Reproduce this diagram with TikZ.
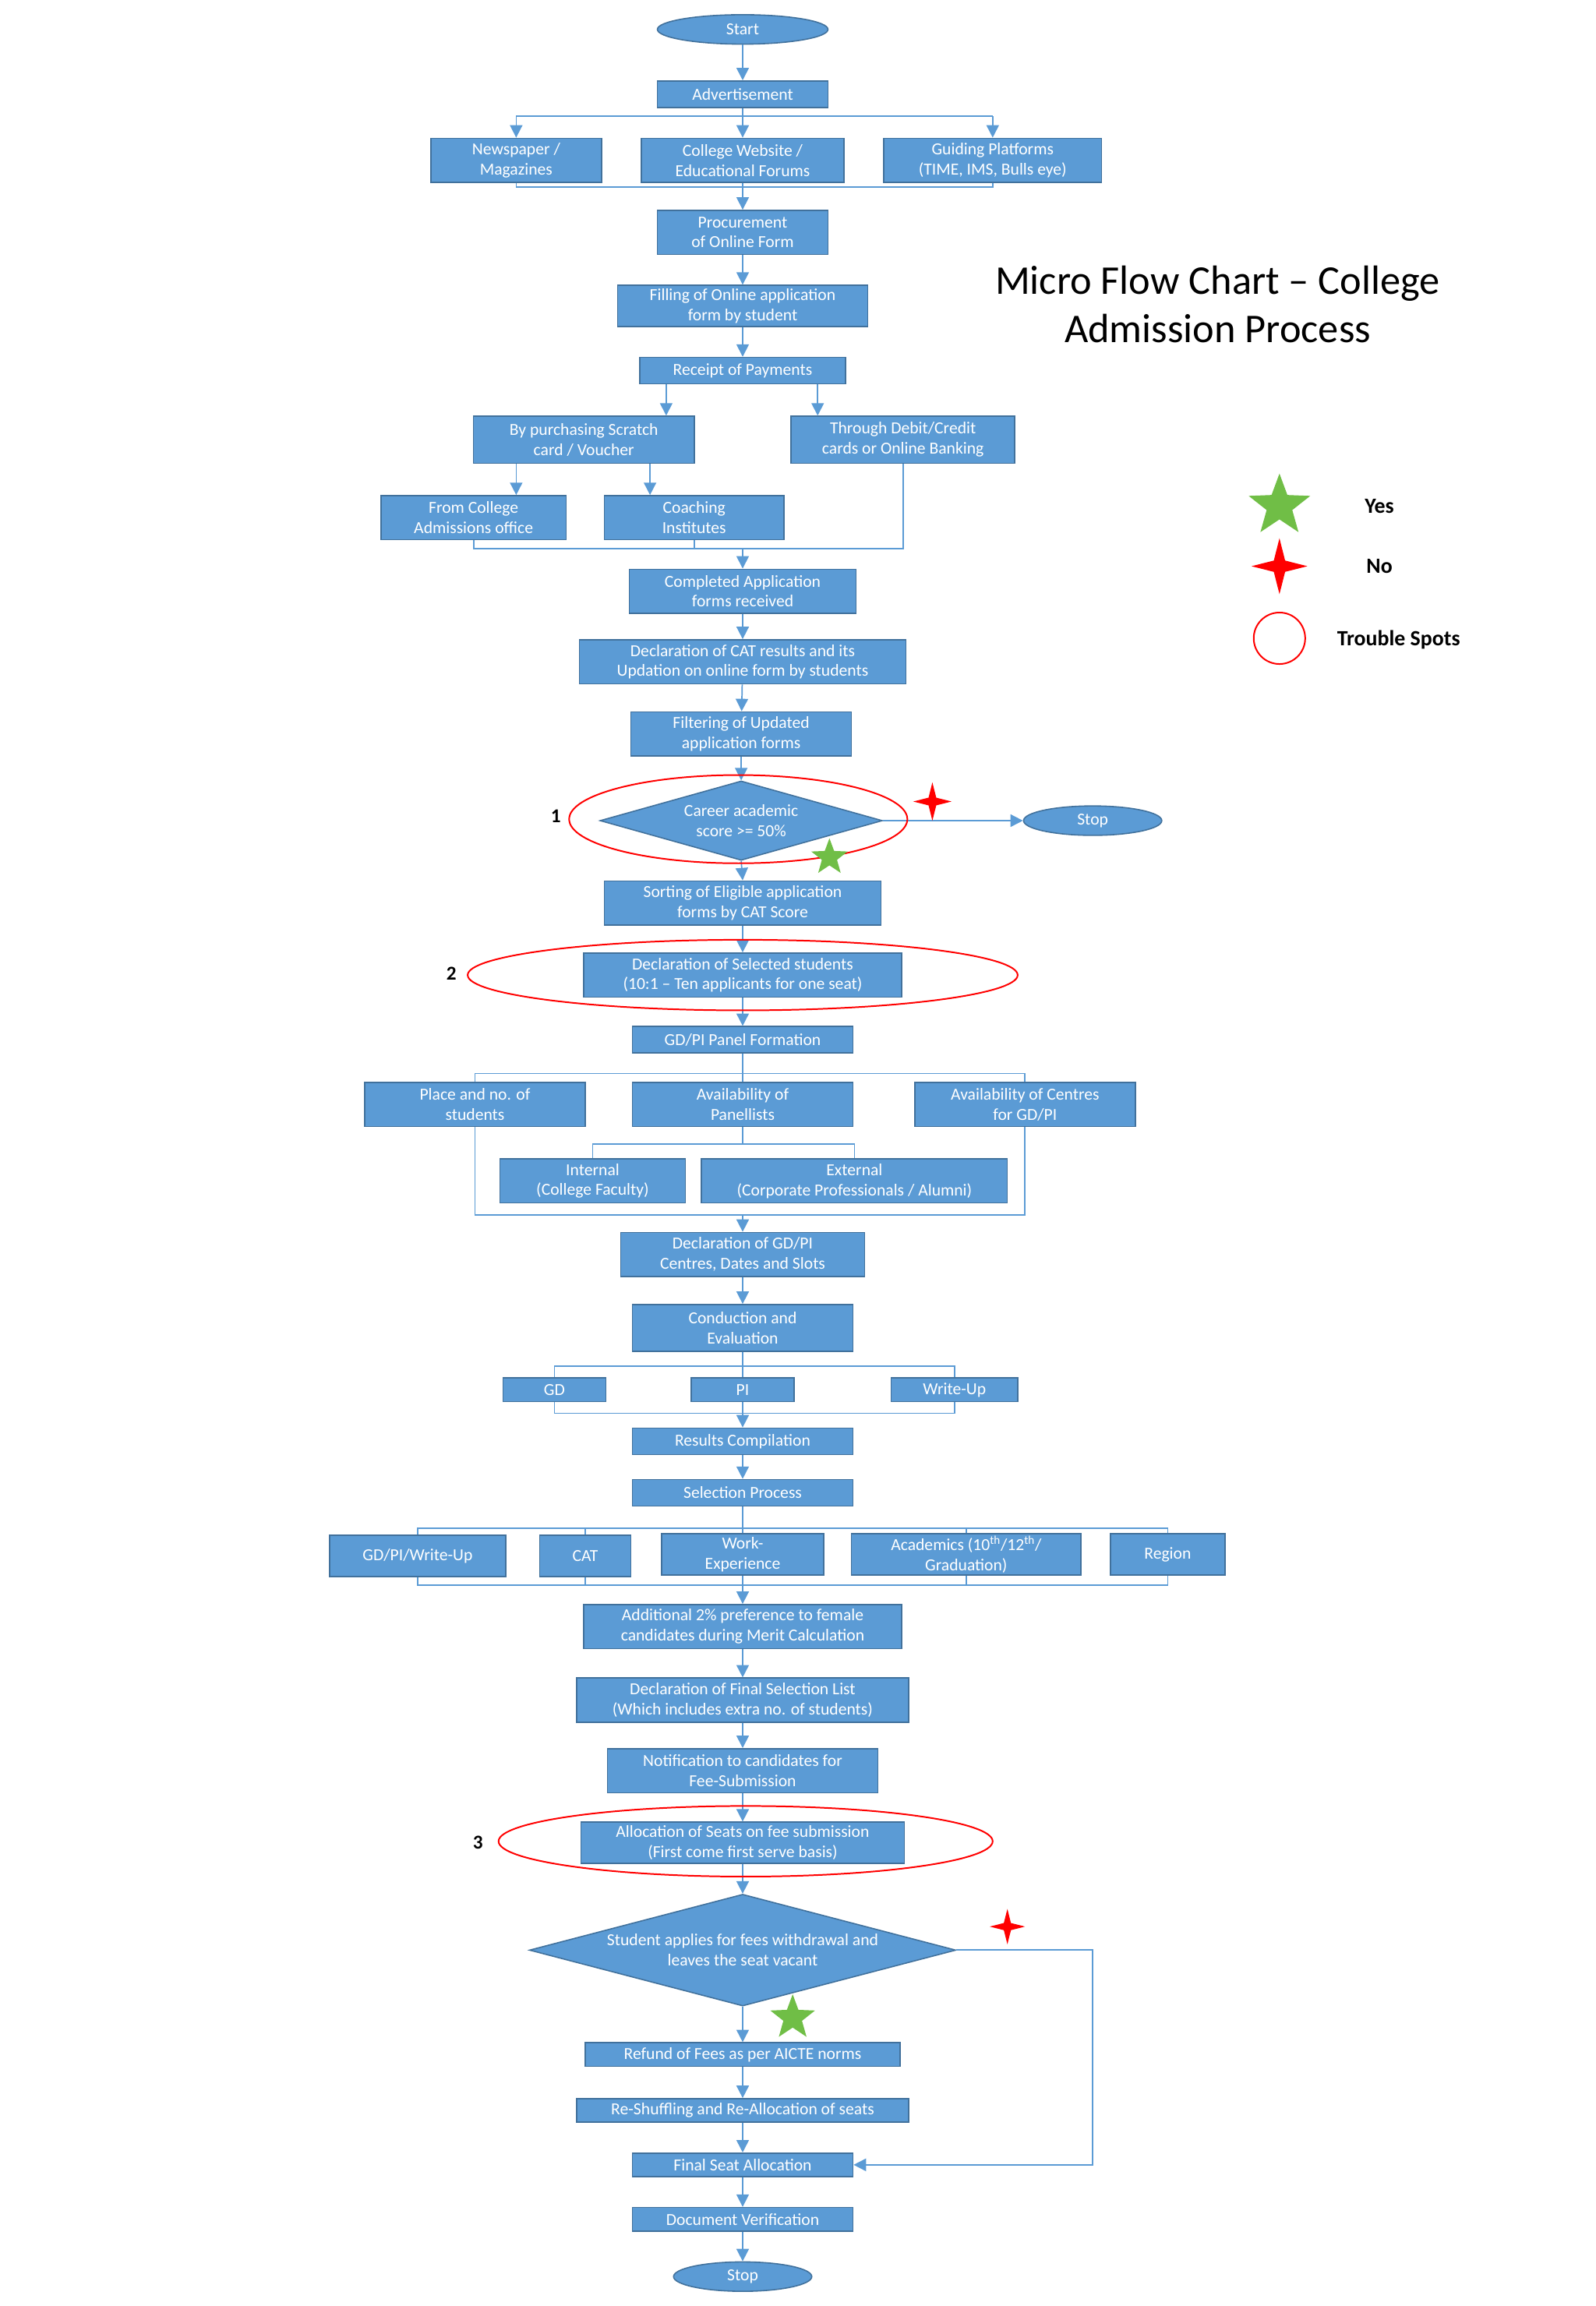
\documentclass[tikz,border=0pt]{standalone}
\usepackage{fontspec}
\setmainfont{Carlito}
\usetikzlibrary{shapes.geometric,arrows.meta}
\definecolor{bfill}{RGB}{91,155,213}
\definecolor{bdraw}{RGB}{65,113,156}
\definecolor{lcol}{RGB}{91,155,213}
\definecolor{sgreen}{RGB}{112,190,70}
\tikzset{
 box/.style={draw=bdraw,fill=bfill,line width=1.2pt,text=white,align=center,inner sep=0pt,font=\fontsize{16.3}{19.5}\selectfont},
 oval/.style={box,ellipse},
 dia/.style={box,diamond,aspect=3.5},
 ln/.style={draw=lcol,line width=1.3pt},
 arr/.style={ln,-{Triangle[length=12pt,width=12pt]}},
 ring/.style={draw=red,line width=1.5pt,ellipse,inner sep=0pt},
 gstar/.style={star,star points=5,star point ratio=2.4,fill=sgreen,draw=none,inner sep=0pt},
 rstar/.style={star,star points=4,star point ratio=3.5,fill=red,draw=none,inner sep=0pt},
 numlab/.style={font=\fontsize{19}{20}\selectfont\bfseries},
}
\newcommand\mybox[6]{\node[box,minimum width=#4*0.05cm,minimum height=#5*0.05cm] (#1) at (#2,#3) {#6};}
\begin{document}
\begin{tikzpicture}[x=0.05cm,y=-0.05cm]
\useasboundingbox (0,0) rectangle (1085,1568);
\node[oval,minimum width=5.8cm,minimum height=1cm] (start) at (505,20) {Start};
\mybox{adv}{505}{64}{116}{18}{Advertisement}
\mybox{news}{351}{109}{116}{30}{Newspaper /\\Magazines}
\mybox{coll}{505}{109}{138}{30}{College Website /\\Educational Forums}
\mybox{guide}{675}{109}{148}{30}{Guiding Platforms\\(TIME, IMS, Bulls eye)}
\mybox{proc}{505}{158}{116}{30}{Procurement\\of Online Form}
\mybox{fill}{505}{208}{170}{28}{Filling of Online application\\form by student}
\mybox{rec}{505}{252}{140}{18}{Receipt of Payments}
\mybox{scr}{397}{299}{150}{32}{By purchasing Scratch\\card / Voucher}
\mybox{deb}{614}{299}{152}{32}{Through Debit/Credit\\cards or Online Banking}
\mybox{fcol}{322}{352}{126}{30}{From College\\Admissions office}
\mybox{coach}{472}{352}{122}{30}{Coaching\\Institutes}
\mybox{comp}{505}{402}{154}{30}{Completed Application\\forms received}
\mybox{dcat}{505}{450}{222}{30}{Declaration of CAT results and its\\Updation on online form by students}
\mybox{filt}{504}{499}{150}{30}{Filtering of Updated\\application forms}
\node[dia,minimum width=9.6cm,minimum height=2.7cm] (car) at (504,558) {Career academic\\score >= 50\%};
\node[oval,minimum width=4.7cm,minimum height=1cm] (stop1) at (743,558) {Stop};
\mybox{sort}{505}{614}{188}{30}{Sorting of Eligible application\\forms by CAT Score}
\mybox{dsel}{505}{663}{216}{30}{Declaration of Selected students\\(10:1 -- Ten applicants for one seat)}
\mybox{pan}{505}{707}{150}{18}{GD/PI Panel Formation}
\mybox{place}{323}{751}{150}{30}{Place and no. of\\students}
\mybox{avp}{505}{751}{150}{30}{Availability of\\Panellists}
\mybox{avc}{697}{751}{150}{30}{Availability of Centres\\for GD/PI}
\mybox{int}{403}{803}{126}{30}{Internal\\(College Faculty)}
\mybox{ext}{581}{803}{208}{30}{External\\(Corporate Professionals / Alumni)}
\mybox{dgd}{505}{853}{166}{30}{Declaration of GD/PI\\Centres, Dates and Slots}
\mybox{cond}{505}{903}{150}{32}{Conduction and\\Evaluation}
\mybox{gd}{377}{945}{70}{16}{GD}
\mybox{pi}{505}{945}{70}{16}{PI}
\mybox{wu}{649}{945}{86}{16}{Write-Up}
\mybox{res}{505}{980}{150}{18}{Results Compilation}
\mybox{sel}{505}{1015}{150}{18}{Selection Process}
\mybox{s1}{284}{1058}{120}{28}{GD/PI/Write-Up}
\mybox{s2}{398}{1058}{62}{28}{CAT}
\mybox{s3}{505}{1057}{110}{28}{Work-\\Experience}
\mybox{s4}{657}{1057}{156}{28}{Academics (10\textsuperscript{th}/12\textsuperscript{th}/\\Graduation)}
\mybox{s5}{794}{1057}{78}{28}{Region}
\mybox{addl}{505}{1106}{216}{30}{Additional 2\% preference to female\\candidates during Merit Calculation}
\mybox{fsl}{505}{1156}{226}{30}{Declaration of Final Selection List\\(Which includes extra no. of students)}
\mybox{notif}{505}{1204}{184}{30}{Notification to candidates for\\Fee-Submission}
\mybox{alloc}{505}{1253}{220}{28}{Allocation of Seats on fee submission\\(First come first serve basis)}
\node[dia,minimum width=14.5cm,minimum height=3.8cm,aspect=3.8] (wd) at (505,1326) {Student applies for fees withdrawal and\\leaves the seat vacant};
\mybox{ref}{505}{1397}{214}{16}{Refund of Fees as per AICTE norms}
\mybox{resh}{505}{1435}{226}{16}{Re-Shuffling and Re-Allocation of seats}
\mybox{fin}{505}{1472}{150}{16}{Final Seat Allocation}
\mybox{doc}{505}{1509}{150}{16}{Document Verification}
\node[oval,minimum width=4.7cm,minimum height=1cm] (stop2) at (505,1548) {Stop};
% connectors
\draw[arr] (start) -- (adv);
\draw[ln] (adv.south) -- (505,79);
\draw[ln] (351,79) -- (675,79);
\draw[arr] (351,79) -- (news.north);
\draw[arr] (505,79) -- (coll.north);
\draw[arr] (675,79) -- (guide.north);
\draw[ln] (news.south) -- (351,127) -- (675,127) -- (guide.south);
\draw[arr] (coll.south) -- (proc.north);
\draw[arr] (proc) -- (fill);
\draw[arr] (fill) -- (rec);
\draw[arr] (rec.south -| 453,0) -- (scr.north -| 453,0);
\draw[arr] (rec.south -| 556,0) -- (deb.north -| 556,0);
\draw[arr] (scr.south -| 351,0) -- (fcol.north -| 351,0);
\draw[arr] (scr.south -| 442,0) -- (coach.north -| 442,0);
\draw[ln] (fcol.south) -- (322,373) -- (614,373) -- (deb.south);
\draw[ln] (coach.south) -- (472,373);
\draw[arr] (505,373) -- (comp.north);
\draw[arr] (comp) -- (dcat);
\draw[arr] (dcat) -- (filt);
\draw[arr] (filt.south) -- (car.north);
\draw[arr] (car.east) -- (stop1.west);
\draw[arr] (car.south) -- (sort.north);
\draw[arr] (sort) -- (dsel);
\draw[arr] (dsel) -- (pan);
\draw[ln] (pan.south) -- (505,730);
\draw[ln] (place.north) -- (323,730) -- (697,730) -- (avc.north);
\draw[ln] (505,730) -- (avp.north);
\draw[ln] (avp.south) -- (505,778);
\draw[ln] (int.north) -- (403,778) -- (581,778) -- (ext.north);
\draw[ln] (place.south) -- (323,826) -- (697,826) -- (avc.south);
\draw[arr] (505,826) -- (dgd.north);
\draw[arr] (dgd) -- (cond);
\draw[ln] (cond.south) -- (505,929);
\draw[ln] (gd.north) -- (377,929) -- (649,929) -- (wu.north);
\draw[ln] (505,929) -- (pi.north);
\draw[ln] (gd.south) -- (377,961) -- (649,961) -- (wu.south);
\draw[ln] (pi.south) -- (505,961);
\draw[arr] (505,961) -- (res.north);
\draw[arr] (res) -- (sel);
\draw[ln] (sel.south) -- (505,1039);
\draw[ln] (s1.north) -- (284,1039) -- (794,1039) -- (s5.north);
\draw[ln] (s2.north) -- (398,1039);
\draw[ln] (s3.north) -- (505,1039);
\draw[ln] (s4.north) -- (657,1039);
\draw[ln] (s1.south) -- (284,1078) -- (794,1078) -- (s5.south);
\draw[ln] (s2.south) -- (398,1078);
\draw[ln] (s4.south) -- (657,1078);
\draw[arr] (s3.south) -- (addl.north);
\draw[arr] (addl) -- (fsl);
\draw[arr] (fsl) -- (notif);
\draw[arr] (notif) -- (alloc);
\draw[arr] (alloc.south) -- (wd.north);
\draw[arr] (wd.south) -- (ref.north);
\draw[arr] (ref) -- (resh);
\draw[arr] (resh) -- (fin);
\draw[arr] (fin) -- (doc);
\draw[arr] (doc) -- (stop2);
\draw[arr] (wd.east) -- (743,1326) -- (743,1472) -- (fin.east);
% trouble spots
\node[ring,minimum width=11.5cm,minimum height=3cm] (r1) at (502,557) {};
\node[ring,minimum width=18.7cm,minimum height=2.4cm] (r2) at (505,663) {};
\node[ring,minimum width=16.8cm,minimum height=2.4cm] (r3) at (507,1252) {};
\node[numlab] (n1) at (378,555) {1};
\node[numlab] (n2) at (307,662) {2};
\node[numlab] (n3) at (325,1253) {3};
\node[gstar,minimum size=1.3cm] (g1) at (564,583) {};
\node[gstar,minimum size=1.6cm] (g2) at (539,1372) {};
\node[rstar,minimum size=1.3cm] (x1) at (634,545) {};
\node[rstar,minimum size=1.2cm] (x2) at (685,1310) {};
% legend
\node[gstar,minimum size=2.2cm] (lg) at (870,344) {};
\node[rstar,minimum size=1.9cm] (lr) at (870,385) {};
\node[draw=red,line width=1.5pt,circle,minimum size=1.75cm] (lc) at (870,434) {};
\node[font=\fontsize{21}{24}\selectfont\bfseries] (ty) at (938,344) {Yes};
\node[font=\fontsize{21}{24}\selectfont\bfseries] (tn) at (938,385) {No};
\node[font=\fontsize{21}{24}\selectfont\bfseries] (tt) at (951,435) {Trouble Spots};
\node[align=center,font=\fontsize{39.5}{47}\selectfont] (title) at (828,207) {Micro Flow Chart -- College\\Admission Process};
\end{tikzpicture}
\end{document}
